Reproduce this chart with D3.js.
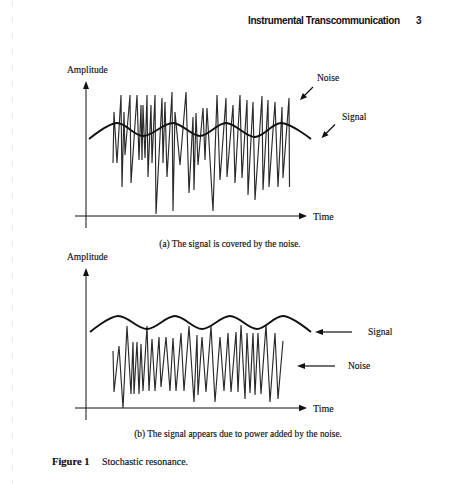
<!DOCTYPE html>
<html><head><meta charset="utf-8">
<script src="https://cdn.jsdelivr.net/npm/d3@7"></script>
<style>
html,body{margin:0;padding:0;background:#fff;}
svg{display:block;}
.serif{font-family:"Liberation Serif","DejaVu Serif",serif;fill:#111;stroke:#111;stroke-width:0.15;}
</style></head>
<body>
<svg id="c" width="474" height="484"></svg>
<script>
// ---- Data (time, amplitude) ----
const noiseA = [[27,53],[28,104],[31,53],[35,121],[36,29],[38,104],[39,61],[44,121],[45,33],[51,121],[53,56],[55,111],[56,56],[57,111],[59,58],[61,121],[62,39],[65,111],[66,53],[69,121],[70,2],[76,118],[77,53],[79,114],[81,39],[86,124],[87,5],[89,104],[94,51],[100,124],[103,23],[107,99],[108,26],[110,103],[112,51],[117,108],[119,56],[121,108],[127,5],[131,121],[134,36],[140,118],[141,39],[147,111],[149,33],[154,121],[156,38],[161,116],[162,21],[167,114],[169,16],[176,120],[177,26],[182,116],[183,29],[189,114],[192,29],[196,109],[197,38],[203,118],[203.5,29]];
const signalA = [[3,77],[31,93],[57,80],[87,93],[114,80],[140,93],[169,79],[195,93],[225,77]];

const noiseB = [[27,57],[28,16],[33,62],[37,0],[41,82],[45,14],[47,66],[48,14],[51,66],[53,14],[55,64],[57,17],[61,82],[63,17],[66,69],[69,17],[73,71],[75,21],[80,71],[84,17],[87,70],[90,17],[95,75],[98,17],[103,82],[108,6],[111,73],[112,13],[116,71],[120,16],[125,82],[129,6],[134,71],[138,17],[142,75],[145,16],[150,76],[152,16],[155,83],[159,9],[161,75],[164,15],[167,75],[169,13],[172,75],[175,14],[180,83],[184,6],[189,75],[192,9],[197,67]];
const signalB = [[4,76],[32,92],[61,79],[89,92],[116,79],[144,92],[171,79],[197,92],[225,76]];

const header = "Instrumental Transcommunication";
const pageNum = "3";
const captionA = "(a) The signal is covered by the noise.";
const captionB = "(b) The signal appears due to power added by the noise.";
const figLabel = "Figure 1";
const figTitle = "Stochastic resonance.";

const svg = d3.select("#c");
svg.append("rect").attr("width",474).attr("height",484).attr("fill","#fff");

// faint page edge
svg.append("line").attr("x1",12.5).attr("x2",12.5).attr("y1",0).attr("y2",484)
  .attr("stroke","#ececec").attr("stroke-width",1).attr("stroke-dasharray","6,10");

svg.append("text").attr("x",248).attr("y",24)
  .attr("font-family","Liberation Sans, Arial, sans-serif").attr("font-weight","bold")
  .attr("font-size",10).attr("fill","#111").attr("textLength",152).text(header);
svg.append("text").attr("x",416).attr("y",24)
  .attr("font-family","Liberation Sans, Arial, sans-serif").attr("font-weight","bold")
  .attr("font-size",10).attr("fill","#111").text(pageNum);

function arrowHead(g, x1, y1, x2, y2, len, half){
  const dx=x2-x1, dy=y2-y1, L=Math.hypot(dx,dy), ux=dx/L, uy=dy/L;
  const bx=x2-ux*len, by=y2-uy*len;
  g.append("path").attr("d",`M${x2},${y2}L${bx-uy*half},${by+ux*half}L${bx+uy*half},${by-ux*half}Z`).attr("fill","#111");
}
function arrow(g, x1,y1,x2,y2,len,half,w){
  const dx=x2-x1, dy=y2-y1, L=Math.hypot(dx,dy);
  g.append("line").attr("x1",x1).attr("y1",y1)
    .attr("x2",x2-dx/L*(len-1)).attr("y2",y2-dy/L*(len-1))
    .attr("stroke","#111").attr("stroke-width",w);
  arrowHead(g,x1,y1,x2,y2,len,half);
}

function panel(opts){
  const g = svg.append("g");
  const x = d3.scaleLinear().domain([0,221]).range([86,307]);
  const y = d3.scaleLinear().domain([0,136]).range([opts.base, opts.base-136]);
  // axes
  arrow(g, x(0), y(-12), x(0), y(opts.yTop), 8, 3, 1);
  arrow(g, x(-11), y(0), x(221), y(0), 8, 3.2, 1);
  const line = d3.line().x(d=>x(d[0])).y(d=>y(d[1]));
  g.append("path").datum(opts.noise).attr("d",line)
    .attr("fill","none").attr("stroke","#2a2a2a").attr("stroke-width",1.15).attr("stroke-linejoin","miter");
  const sline = d3.line().x(d=>x(d[0])).y(d=>y(d[1])).curve(d3.curveCatmullRom.alpha(0.5));
  g.append("path").datum(opts.signal).attr("d",sline)
    .attr("fill","none").attr("stroke","#111").attr("stroke-width",1.9);
  g.append("text").attr("class","serif").attr("x",67).attr("y",y(opts.yTop)-8)
    .attr("font-size",9.5).text("Amplitude");
  g.append("text").attr("class","serif").attr("x",313).attr("y",y(0)+3.5)
    .attr("font-size",10).text("Time");
  return {g,x,y};
}

const pa = panel({base:216, yTop:135, noise:noiseA, signal:signalA});
// labels panel a
arrow(pa.g, 313, 87, 300, 100, 7, 3, 1.2);
pa.g.append("text").attr("class","serif").attr("x",317).attr("y",81).attr("font-size",9.5).text("Noise");
arrow(pa.g, 335, 124.5, 321.5, 138, 7, 3, 1.2);
pa.g.append("text").attr("class","serif").attr("x",342).attr("y",120).attr("font-size",9.5).text("Signal");
svg.append("text").attr("class","serif").attr("x",230).attr("y",246.5).attr("text-anchor","middle")
  .attr("font-size",9.3).text(captionA);

const pb = panel({base:408, yTop:140, noise:noiseB, signal:signalB});
arrow(pb.g, 352, 332, 315, 332, 8, 3, 1.2);
pb.g.append("text").attr("class","serif").attr("x",368).attr("y",335).attr("font-size",9.5).text("Signal");
arrow(pb.g, 335, 366, 297, 366, 8, 3, 1.2);
pb.g.append("text").attr("class","serif").attr("x",348).attr("y",369).attr("font-size",9.5).text("Noise");
svg.append("text").attr("class","serif").attr("x",238).attr("y",437).attr("text-anchor","middle")
  .attr("font-size",9.3).text(captionB);

svg.append("text").attr("class","serif").attr("x",52).attr("y",465).attr("font-size",10.5)
  .attr("font-weight","bold").text(figLabel);
svg.append("text").attr("class","serif").attr("x",102).attr("y",465).attr("font-size",10)
  .text(figTitle);
</script>
</body></html>
